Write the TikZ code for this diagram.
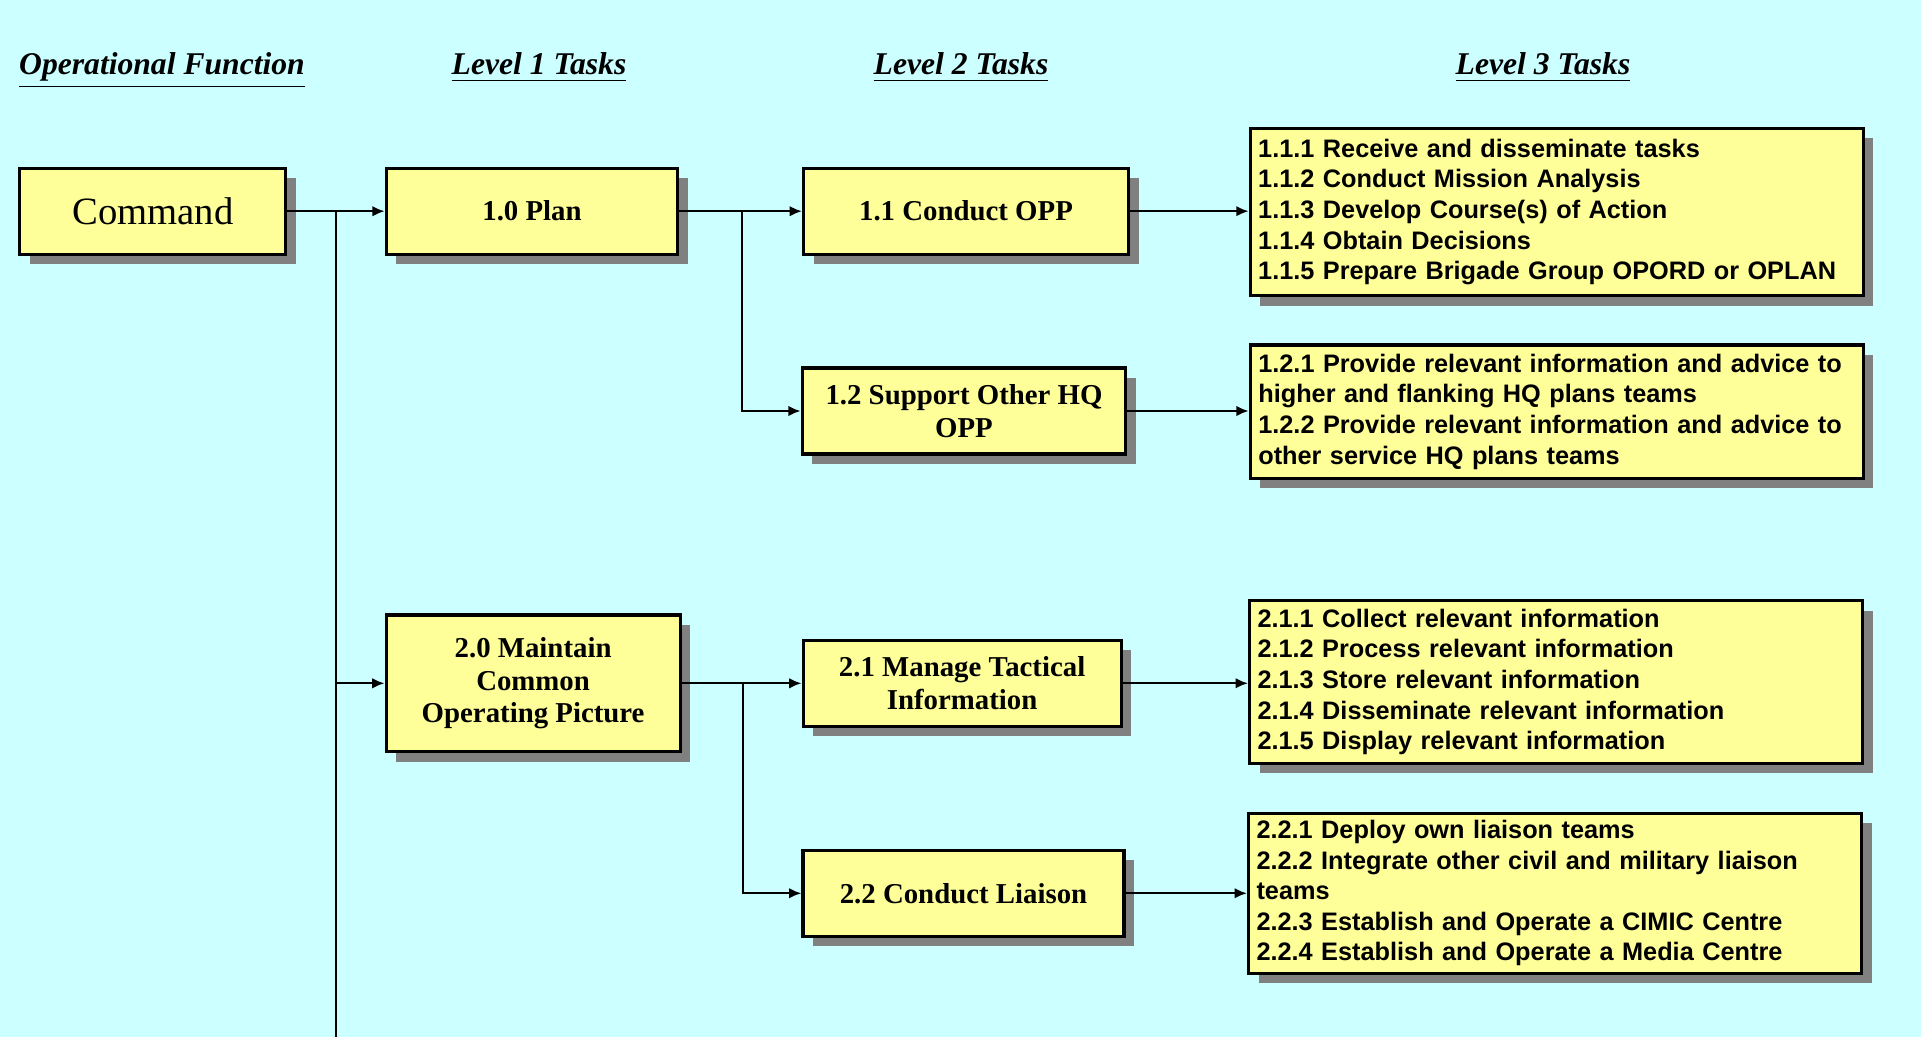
\documentclass[tikz,border=0pt]{standalone}
\usepackage{fontspec}
\setmainfont{Liberation Serif}
\newfontfamily\listfont{Liberation Sans}
\usetikzlibrary{arrows.meta,shadows}
\definecolor{sky}{HTML}{CCFFFF}
\definecolor{pad}{HTML}{FFFF99}
\definecolor{shade}{HTML}{808080}

\begin{document}
\begin{tikzpicture}[>={Latex[length=3.5pt,width=3pt]},
  task/.style={draw,line width=.9pt,fill=pad,align=center,inner sep=2pt,minimum height=.86cm,
    font=\bfseries\fontsize{8.2}{9.2}\selectfont,
    drop shadow={shadow xshift=.1cm,shadow yshift=-.1cm,fill=shade,opacity=1}},
  sub/.style={task,align=left,text width=5.97cm,inner xsep=.08cm,
    font=\listfont\bfseries\fontsize{7.2}{8.7}\selectfont},
  head/.style={anchor=base,font=\bfseries\itshape\fontsize{9}{11}\selectfont},
  link/.style={line width=.6pt}]
\useasboundingbox (0,0) rectangle (19.21,-10.37);
\fill[sky] (0,0) rectangle (19.21,-10.37);
% column headings
\node[head] (hof) at (1.62,-.75) {\underline{Operational Function}};
\node[head] (hl1) at (5.39,-.75) {\underline{Level 1 Tasks}};
\node[head] (hl2) at (9.61,-.75) {\underline{Level 2 Tasks}};
\node[head] (hl3) at (15.43,-.75) {\underline{Level 3 Tasks}};
% function, level 1 and level 2
\node[task,font=\fontsize{11}{13}\selectfont,minimum width=2.66cm] (cmd) at (1.529,-2.112) {Command};
\node[task,minimum width=2.915cm] (plan) at (5.32,-2.112) {1.0 Plan};
\node[task,minimum width=3.25cm] (c11) at (9.66,-2.112) {1.1 Conduct OPP};
\node[task,minimum width=3.235cm] (c12) at (9.64,-4.11) {1.2 Support Other HQ\\OPP};
\node[task,minimum width=2.94cm,minimum height=1.367cm] (cop) at (5.331,-6.833) {2.0 Maintain\\Common\\Operating Picture};
\node[task,minimum width=3.18cm] (c21) at (9.621,-6.833) {2.1 Manage Tactical\\Information};
\node[task,minimum width=3.21cm] (c22) at (9.635,-8.933) {2.2 Conduct Liaison};
% level 3
\node[sub,minimum height=1.674cm] (s11) at (15.567,-2.12) {1.1.1 Receive and disseminate tasks\\1.1.2 Conduct Mission Analysis\\1.1.3 Develop Course(s) of Action\\1.1.4 Obtain Decisions\\1.1.5 Prepare Brigade Group OPORD or OPLAN};
\node[sub,minimum height=1.333cm] (s12) at (15.568,-4.117) {1.2.1 Provide relevant information and advice to\\higher and flanking HQ plans teams\\1.2.2 Provide relevant information and advice to\\other service HQ plans teams};
\node[sub,minimum height=1.626cm] (s21) at (15.56,-6.82) {2.1.1 Collect relevant information\\2.1.2 Process relevant information\\2.1.3 Store relevant information\\2.1.4 Disseminate relevant information\\2.1.5 Display relevant information};
\node[sub,minimum height=1.6cm] (s22) at (15.55,-8.933) {2.2.1 Deploy own liaison teams\\2.2.2 Integrate other civil and military liaison\\teams\\2.2.3 Establish and Operate a CIMIC Centre\\2.2.4 Establish and Operate a Media Centre};
\coordinate (foot) at (3.357,-10.37);
\draw[link,->] (cmd.east)--(plan.west);
\draw[link] (cmd.east -| foot)--(foot);
\draw[link,->] (cop.west -| foot)--(cop.west);
\draw[link,->] (plan.east)--(c11.west);\draw[link,->] (plan.east)--++(.63,0)|-(c12.west);
\draw[link,->] (cop.east)--(c21.west);\draw[link,->] (cop.east)--++(.61,0)|-(c22.west);
\draw[link,->] (c11.east)--(c11.east -| s11.west);\draw[link,->] (c12.east)--(c12.east -| s12.west);
\draw[link,->] (c21.east)--(c21.east -| s21.west);\draw[link,->] (c22.east)--(c22.east -| s22.west);
\end{tikzpicture}
\end{document}
